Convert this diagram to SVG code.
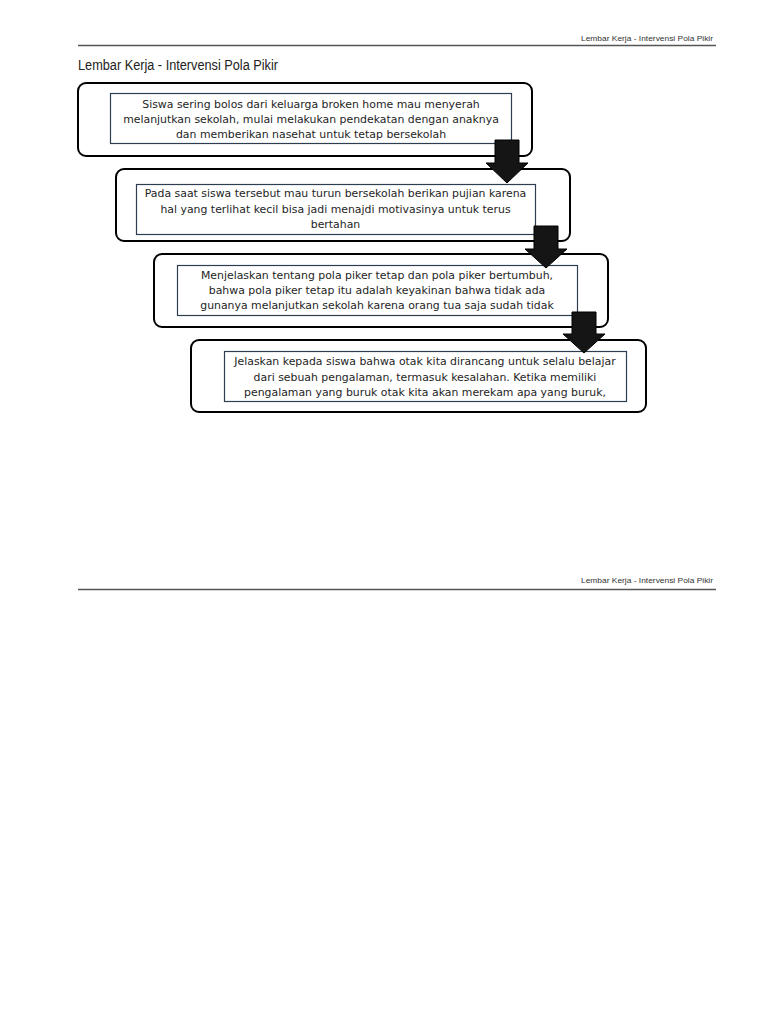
<svg xmlns="http://www.w3.org/2000/svg" width="768" height="1024" viewBox="0 0 768 1024">
<style>
.bg{fill:#fff}
.rule{stroke:#555;stroke-width:1.5;fill:none}
.hdr{font-family:"Liberation Sans",Arial,sans-serif;font-size:8px;fill:#333}
.title{font-family:"Liberation Sans",Arial,sans-serif;font-size:14px;fill:#222}
.outer{fill:#fff;stroke:#000;stroke-width:2}
.inner{fill:#fff;stroke:#2d3e50;stroke-width:1.2}
.txt{font-family:"DejaVu Sans",Verdana,sans-serif;font-size:10.9px;fill:#1e1e1e;text-anchor:middle}
.arrow{fill:#151515;stroke:#000;stroke-width:1}
</style>
<rect class="bg" x="0" y="0" width="768" height="1024"/>
<g id="header">
<text class="hdr" x="713" y="41" text-anchor="end" textLength="132" lengthAdjust="spacingAndGlyphs">Lembar Kerja - Intervensi Pola Pikir</text>
<line class="rule" x1="78" y1="45.5" x2="716" y2="45.5"/>
<text class="title" x="78" y="70" textLength="200" lengthAdjust="spacingAndGlyphs">Lembar Kerja - Intervensi Pola Pikir</text>
</g>
<g id="node1">
<rect class="outer" x="78" y="83" width="454" height="73" rx="8"/>
<rect class="inner" x="110.5" y="93.5" width="401" height="50"/>
<text class="txt" x="311" y="108">Siswa sering bolos dari keluarga broken home mau menyerah</text>
<text class="txt" x="311" y="123">melanjutkan sekolah, mulai melakukan pendekatan dengan anaknya</text>
<text class="txt" x="311" y="138">dan memberikan nasehat untuk tetap bersekolah</text>
</g>
<g id="node2">
<rect class="outer" x="116" y="169" width="454" height="72" rx="8"/>
<rect class="inner" x="136.5" y="184.5" width="399" height="50"/>
<text class="txt" x="335.5" y="197">Pada saat siswa tersebut mau turun bersekolah berikan pujian karena</text>
<text class="txt" x="335.5" y="212.5">hal yang terlihat kecil bisa jadi menajdi motivasinya untuk terus</text>
<text class="txt" x="335.5" y="228">bertahan</text>
</g>
<g id="node3">
<rect class="outer" x="154" y="254" width="454" height="73" rx="8"/>
<rect class="inner" x="177.5" y="265.5" width="400" height="50"/>
<text class="txt" x="377" y="279">Menjelaskan tentang pola piker tetap dan pola piker bertumbuh,</text>
<text class="txt" x="377" y="294">bahwa pola piker tetap itu adalah keyakinan bahwa tidak ada</text>
<text class="txt" x="377" y="309">gunanya melanjutkan sekolah karena orang tua saja sudah tidak</text>
</g>
<g id="node4">
<rect class="outer" x="191" y="340" width="455" height="72" rx="8"/>
<rect class="inner" x="224.5" y="351.5" width="402" height="50"/>
<text class="txt" x="425" y="365">Jelaskan kepada siswa bahwa otak kita dirancang untuk selalu belajar</text>
<text class="txt" x="425" y="380.5">dari sebuah pengalaman, termasuk kesalahan. Ketika memiliki</text>
<text class="txt" x="425" y="396">pengalaman yang buruk otak kita akan merekam apa yang buruk,</text>
</g>
<g id="connectors">
<path class="arrow" d="M495 140 H519 V163 H528 L507 183 L486 163 H495 Z"/>
<path class="arrow" d="M534 226 H558 V249 H567 L546 268 L525 249 H534 Z"/>
<path class="arrow" d="M572 312 H596 V334 H605 L584 353 L563 334 H572 Z"/>
</g>
<g id="footer">
<text class="hdr" x="713" y="583" text-anchor="end" textLength="132" lengthAdjust="spacingAndGlyphs">Lembar Kerja - Intervensi Pola Pikir</text>
<line class="rule" x1="78" y1="589.5" x2="716" y2="589.5"/>
</g>
</svg>
